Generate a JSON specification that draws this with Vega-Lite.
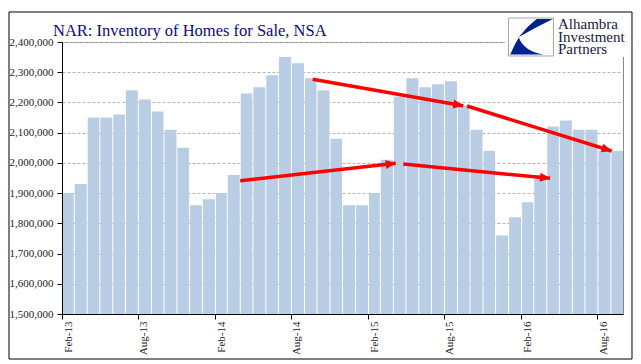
{
  "$schema": "https://vega.github.io/schema/vega-lite/v6.json",
  "width": 561,
  "height": 272,
  "autosize": "none",
  "padding": {"left": 62, "top": 42, "right": 18, "bottom": 50},
  "background": "white",
  "title": {
    "text": "NAR: Inventory of Homes for Sale, NSA",
    "anchor": "start",
    "frame": "group",
    "dx": -9,
    "dy": 43,
    "offset": 0,
    "baseline": "alphabetic",
    "font": "Liberation Serif",
    "fontSize": 16.5,
    "fontWeight": "normal",
    "color": "#0b0b80"
  },
  "config": {
    "view": {"stroke": "#888888", "strokeWidth": 1},
    "axis": {
      "labelFont": "Liberation Serif",
      "labelFontSize": 11,
      "labelColor": "#222222",
      "domainColor": "#000000",
      "tickColor": "#000000",
      "tickSize": 5,
      "gridColor": "#b4b4b4",
      "gridDash": [3, 2]
    },
    "axisX": {"grid": false, "labelAngle": -90, "labelOffset": 6, "labelPadding": 2},
    "axisY": {"grid": true, "labelPadding": 4}
  },
  "datasets": {
    "inv": [
      {"month": "2013-02", "inventory": 1900000},
      {"month": "2013-03", "inventory": 1930000},
      {"month": "2013-04", "inventory": 2150000},
      {"month": "2013-05", "inventory": 2150000},
      {"month": "2013-06", "inventory": 2160000},
      {"month": "2013-07", "inventory": 2240000},
      {"month": "2013-08", "inventory": 2210000},
      {"month": "2013-09", "inventory": 2170000},
      {"month": "2013-10", "inventory": 2110000},
      {"month": "2013-11", "inventory": 2050000},
      {"month": "2013-12", "inventory": 1860000},
      {"month": "2014-01", "inventory": 1880000},
      {"month": "2014-02", "inventory": 1900000},
      {"month": "2014-03", "inventory": 1960000},
      {"month": "2014-04", "inventory": 2230000},
      {"month": "2014-05", "inventory": 2250000},
      {"month": "2014-06", "inventory": 2290000},
      {"month": "2014-07", "inventory": 2350000},
      {"month": "2014-08", "inventory": 2330000},
      {"month": "2014-09", "inventory": 2280000},
      {"month": "2014-10", "inventory": 2240000},
      {"month": "2014-11", "inventory": 2080000},
      {"month": "2014-12", "inventory": 1860000},
      {"month": "2015-01", "inventory": 1860000},
      {"month": "2015-02", "inventory": 1900000},
      {"month": "2015-03", "inventory": 2010000},
      {"month": "2015-04", "inventory": 2220000},
      {"month": "2015-05", "inventory": 2280000},
      {"month": "2015-06", "inventory": 2250000},
      {"month": "2015-07", "inventory": 2260000},
      {"month": "2015-08", "inventory": 2270000},
      {"month": "2015-09", "inventory": 2190000},
      {"month": "2015-10", "inventory": 2110000},
      {"month": "2015-11", "inventory": 2040000},
      {"month": "2015-12", "inventory": 1760000},
      {"month": "2016-01", "inventory": 1820000},
      {"month": "2016-02", "inventory": 1870000},
      {"month": "2016-03", "inventory": 1960000},
      {"month": "2016-04", "inventory": 2120000},
      {"month": "2016-05", "inventory": 2140000},
      {"month": "2016-06", "inventory": 2110000},
      {"month": "2016-07", "inventory": 2110000},
      {"month": "2016-08", "inventory": 2040000},
      {"month": "2016-09", "inventory": 2040000}
    ],
    "arrows": [
      {"id": "a1", "start": "2014-04-02", "startValue": 1941000, "end": "2015-04-08", "endValue": 1998600},
      {"id": "a2", "start": "2015-04-26", "startValue": 1996300, "end": "2016-04-10", "endValue": 1949000},
      {"id": "a3", "start": "2014-09-22", "startValue": 2276600, "end": "2015-09-16", "endValue": 2189200},
      {"id": "a4", "start": "2015-09-25", "startValue": 2188200, "end": "2016-09-04", "endValue": 2039300}
    ]
  },
  "layer": [
    {
      "data": {"name": "inv", "format": {"parse": {"month": "utc:'%Y-%m'"}}},
      "mark": {"type": "bar", "color": "#b9cde5", "timeUnitBandSize": 0.78, "clip": true},
      "encoding": {
        "x": {
          "field": "month",
          "timeUnit": "utcyearmonth",
          "type": "temporal",
          "title": null,
          "scale": {
            "type": "utc",
            "nice": false,
            "domain": [
              {"year": 2013, "month": 2, "date": 1, "utc": true},
              {"year": 2016, "month": 10, "date": 1, "utc": true}
            ]
          },
          "axis": {
            "format": "%b-%y",
            "values": [
              {"year": 2013, "month": 2, "date": 1, "utc": true},
              {"year": 2013, "month": 8, "date": 1, "utc": true},
              {"year": 2014, "month": 2, "date": 1, "utc": true},
              {"year": 2014, "month": 8, "date": 1, "utc": true},
              {"year": 2015, "month": 2, "date": 1, "utc": true},
              {"year": 2015, "month": 8, "date": 1, "utc": true},
              {"year": 2016, "month": 2, "date": 1, "utc": true},
              {"year": 2016, "month": 8, "date": 1, "utc": true}
            ]
          }
        },
        "y": {
          "field": "inventory",
          "type": "quantitative",
          "title": null,
          "scale": {"domain": [1500000, 2400000], "nice": false, "zero": false},
          "axis": {
            "format": ",.0f",
            "labelOverlap": false,
            "tickCount": 10
          }
        }
      }
    },
    {
      "data": {"name": "arrows", "format": {"parse": {"start": "utc:'%Y-%m-%d'", "end": "utc:'%Y-%m-%d'"}}},
      "layer": [
        {
          "mark": {"type": "rule", "color": "#ff0000", "strokeWidth": 3.5},
          "encoding": {
            "x": {"field": "start", "type": "temporal", "title": null},
            "x2": {"field": "end"},
            "y": {"field": "startValue", "type": "quantitative", "title": null},
            "y2": {"field": "endValue"}
          }
        },
        {
          "transform": [{"filter": "datum.id === 'a1'"}],
          "mark": {"type": "point", "shape": "M0,0 L-2,-0.9 L-2,0.9 Z", "size": 100, "filled": true, "color": "#ff0000", "opacity": 1, "angle": -6.4},
          "encoding": {
            "x": {"field": "end", "type": "temporal", "title": null},
            "y": {"field": "endValue", "type": "quantitative", "title": null}
          }
        },
        {
          "transform": [{"filter": "datum.id === 'a2'"}],
          "mark": {"type": "point", "shape": "M0,0 L-2,-0.9 L-2,0.9 Z", "size": 100, "filled": true, "color": "#ff0000", "opacity": 1, "angle": 5.6},
          "encoding": {
            "x": {"field": "end", "type": "temporal", "title": null},
            "y": {"field": "endValue", "type": "quantitative", "title": null}
          }
        },
        {
          "transform": [{"filter": "datum.id === 'a3'"}],
          "mark": {"type": "point", "shape": "M0,0 L-2,-0.9 L-2,0.9 Z", "size": 100, "filled": true, "color": "#ff0000", "opacity": 1, "angle": 9.9},
          "encoding": {
            "x": {"field": "end", "type": "temporal", "title": null},
            "y": {"field": "endValue", "type": "quantitative", "title": null}
          }
        },
        {
          "transform": [{"filter": "datum.id === 'a4'"}],
          "mark": {"type": "point", "shape": "M0,0 L-2,-0.9 L-2,0.9 Z", "size": 100, "filled": true, "color": "#ff0000", "opacity": 1, "angle": 17.3},
          "encoding": {
            "x": {"field": "end", "type": "temporal", "title": null},
            "y": {"field": "endValue", "type": "quantitative", "title": null}
          }
        }
      ]
    },
    {
      "data": {"values": [{}]},
      "mark": {"type": "point", "shape": "M-1,-0.557 H1 V0.557 H-1 Z", "size": 388129, "filled": false, "stroke": "#000000", "strokeWidth": 1, "opacity": 1},
      "encoding": {
        "x": {"datum": {"year": 2014, "month": 10, "date": 10, "hours": 12, "utc": true}, "type": "temporal", "title": null},
        "y": {"datum": 1925200, "type": "quantitative", "title": null}
      }
    },
    {
      "data": {"values": [{}]},
      "mark": {"type": "point", "shape": "M-1,-0.344 H1 V0.344 H-1 Z", "size": 15625, "filled": true, "color": "#ffffff", "opacity": 1},
      "encoding": {
        "x": {"datum": {"year": 2016, "month": 5, "date": 21, "hours": 14, "utc": true}, "type": "temporal", "title": null},
        "y": {"datum": 2421507, "type": "quantitative", "title": null}
      }
    },
    {
      "data": {"values": [{}]},
      "mark": {"type": "point", "shape": "M-1,-0.844 H1 V0.844 H-1 Z", "size": 2025, "filled": true, "fill": "#fdfdfd", "stroke": "#a6a6a6", "strokeWidth": 1, "opacity": 1},
      "encoding": {
        "x": {"datum": {"year": 2016, "month": 2, "date": 24, "hours": 12, "utc": true}, "type": "temporal", "title": null},
        "y": {"datum": 2416544, "type": "quantitative", "title": null}
      }
    },
    {
      "data": {"values": [{}]},
      "mark": {"type": "point", "shape": "M0.25,-0.8 L0.97,-0.8 Q0.15,-0.4 -0.54,0 Q-0.2,-0.45 0.25,-0.8 Z M-0.54,0.02 Q-0.32,0.62 0.55,0.78 L-0.92,0.78 Q-0.75,0.35 -0.54,0.02 Z", "size": 2025, "filled": true, "color": "#002090", "opacity": 1},
      "encoding": {
        "x": {"datum": {"year": 2016, "month": 2, "date": 24, "hours": 12, "utc": true}, "type": "temporal", "title": null},
        "y": {"datum": 2416544, "type": "quantitative", "title": null}
      }
    },
    {
      "data": {"values": [{}]},
      "mark": {"type": "text", "text": ["Alhambra", "Investment", "Partners"], "lineHeight": 12.5, "align": "left", "baseline": "alphabetic", "font": "Liberation Serif", "fontSize": 15, "color": "#1a1a40"},
      "encoding": {
        "x": {"datum": {"year": 2016, "month": 4, "date": 29, "utc": true}, "type": "temporal", "title": null},
        "y": {"datum": 2443014, "type": "quantitative", "title": null}
      }
    }
  ]
}
